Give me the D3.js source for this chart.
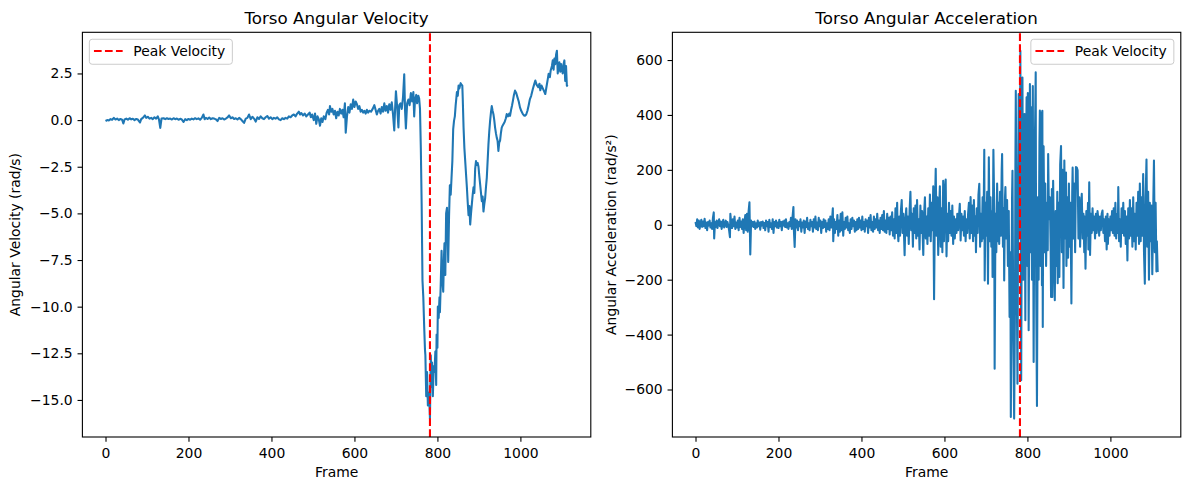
<!DOCTYPE html>
<html>
<head>
<meta charset="utf-8">
<script src="https://cdn.jsdelivr.net/npm/d3@7"></script>
<style>
  body { margin: 0; background: #ffffff; }
  svg text { font-family: "DejaVu Sans", sans-serif; fill: #000; }
</style>
</head>
<body>
<svg id="chart" width="1190" height="490"></svg>
<script>
// [frame, rad/s]
var velocityPoints = [
  [0,-0.05],[4,0.0],[8,-0.02],[12,0.05],[16,0.02],[20,0.12],[24,0.03],[28,0.08],[32,0.0],[36,0.06],
  [40,0.02],[43,-0.18],[46,0.04],[50,0.08],[54,0.02],[58,0.1],[62,0.04],[66,0.07],[70,0.0],[74,0.06],
  [78,0.03],[83,-0.13],[86,0.05],[90,0.12],[95,0.25],[98,0.12],[102,0.18],[106,0.08],[110,0.12],[114,0.05],
  [118,0.15],[122,0.08],[126,0.2],[129,0.02],[132,-0.42],[135,0.08],[140,0.1],[144,0.05],[148,0.1],[152,0.06],
  [156,0.08],[160,0.03],[164,0.1],[168,0.05],[172,0.08],[176,0.02],[180,0.07],[184,0.03],[188,-0.1],[192,0.05],
  [196,0.0],[200,0.06],[204,0.02],[208,0.08],[212,0.04],[216,0.1],[220,0.05],[224,0.09],[228,0.02],[232,0.12],
  [236,0.3],[239,0.05],[242,0.12],[246,0.06],[250,0.14],[254,0.05],[258,0.1],[262,0.08],[266,0.04],[270,-0.05],
  [274,0.12],[278,0.06],[282,0.1],[286,0.03],[290,0.08],[294,0.14],[298,0.25],[302,0.1],[306,0.15],[310,0.06],
  [314,0.1],[318,0.03],[322,0.12],[326,0.05],[330,-0.05],[334,-0.15],[338,0.08],[342,0.12],[346,0.3],[350,0.05],
  [354,0.18],[358,0.08],[362,-0.08],[366,0.15],[370,0.06],[374,0.2],[378,0.1],[382,0.05],[386,0.15],[390,0.22],
  [394,0.08],[398,0.15],[402,0.05],[406,0.12],[410,0.08],[414,0.15],[418,0.04],[422,0.0],[426,0.1],[430,0.05],
  [434,0.12],[438,0.08],[442,0.2],[446,0.15],[450,0.25],[454,0.3],[458,0.2],[462,0.35],[466,0.45],[469,0.3],
  [472,0.38],[476,0.25],[480,0.35],[484,0.2],[488,0.3],[492,0.4],[495,0.15],[498,0.3],[502,0.0],[505,0.35],
  [508,-0.2],[511,0.2],[514,0.05],[517,-0.3],[520,0.1],[523,-0.1],[526,0.2],[530,0.05],[533,0.4],[536,0.55],
  [539,0.3],[541,0.75],[544,0.45],[547,0.6],[550,0.3],[553,0.5],[556,0.1],[559,0.45],[562,0.25],[565,0.6],
  [568,0.35],[571,0.55],[574,0.15],[577,0.9],[579,-0.67],[582,0.2],[585,0.7],[588,0.4],[591,0.85],[594,0.6],
  [597,1.1],[600,0.7],[603,1.0],[606,0.85],[609,0.6],[612,0.75],[615,0.45],[618,0.55],[621,0.4],[624,0.5],
  [627,0.35],[630,0.55],[633,0.4],[636,0.5],[640,0.45],[644,0.6],[648,0.8],[651,0.55],[654,0.3],[657,0.5],
  [660,0.6],[663,0.35],[666,0.7],[669,0.45],[672,0.9],[675,0.5],[678,0.75],[681,0.4],[684,0.85],[687,0.55],
  [690,0.95],[693,0.3],[696,-0.55],[698,0.6],[700,1.55],[703,0.7],[706,-0.4],[708,0.8],[711,0.9],[714,0.6],
  [717,1.2],[720,2.45],[722,0.5],[724,-0.45],[727,0.9],[730,1.1],[733,0.8],[736,1.45],[739,1.0],[742,1.5],
  [744,0.2],[746,1.1],[749,1.35],[751,0.9],[754,1.3],[756,1.15],[758,0.6],[760,-1.5],[762,-4.5],[764,-8.6],
  [766,-9.5],[768,-11.0],[770,-12.3],[771,-12.6],[773,-14.8],[775,-13.5],[777,-15.3],[780,-14.6],[782,-16.0],[784,-12.6],
  [786,-14.3],[787,-13.0],[789,-14.8],[791,-13.2],[793,-13.5],[795,-12.4],[797,-14.2],[798,-11.5],[800,-12.2],[801,-10.0],
  [803,-10.6],[805,-9.5],[806,-10.3],[808,-8.8],[810,-7.0],[812,-8.6],[814,-9.2],[816,-7.2],[817,-6.6],[819,-8.3],
  [821,-5.0],[823,-4.7],[825,-6.5],[826,-7.6],[828,-5.2],[830,-3.5],[832,-4.0],[834,-3.1],[836,-2.2],[838,-0.5],
  [840,-0.04],[842,0.2],[844,0.8],[847,1.5],[849,1.3],[851,1.85],[853,1.7],[856,1.98],[858,1.9],[860,1.85],
  [861,1.2],[863,-0.4],[865,-1.5],[867,-2.2],[869,-2.9],[871,-3.6],[873,-4.4],[875,-5.1],[877,-4.6],[879,-5.6],
  [881,-5.0],[883,-4.5],[885,-4.0],[887,-3.6],[889,-3.9],[891,-2.6],[893,-2.2],[895,-2.4],[897,-2.3],[899,-2.5],
  [901,-3.0],[903,-3.45],[905,-3.9],[907,-4.35],[909,-4.1],[911,-4.9],[913,-4.5],[915,-4.2],[917,-3.6],[919,-3.1],
  [921,-2.2],[923,-1.3],[925,-0.6],[927,-0.04],[929,0.4],[931,0.75],[933,0.5],[935,0.32],[937,0.0],[939,-0.4],
  [941,-0.7],[943,-0.94],[945,-1.1],[947,-1.65],[949,-1.2],[951,-1.1],[953,-0.7],[955,-0.4],[957,-0.3],[959,-0.22],
  [962,-0.1],[965,0.1],[967,0.32],[970,0.2],[973,0.35],[975,0.23],[978,0.6],[980,0.8],[982,1.04],[984,1.3],
  [987,1.58],[990,1.45],[993,1.22],[996,1.0],[999,0.68],[1002,0.5],[1006,0.32],[1009,0.25],[1011,0.23],[1014,0.3],
  [1017,0.5],[1020,0.8],[1023,1.13],[1026,1.3],[1030,1.67],[1033,1.9],[1036,2.12],[1039,1.9],[1043,1.76],[1046,1.95],
  [1048,1.6],[1051,1.85],[1054,1.7],[1057,1.55],[1060,1.4],[1063,1.8],[1066,2.2],[1068,2.48],[1071,2.3],[1073,2.66],
  [1076,2.9],[1078,3.2],[1080,2.7],[1082,3.3],[1084,3.0],[1086,3.5],[1088,3.72],[1090,2.5],[1092,2.9],[1094,3.1],
  [1096,2.6],[1098,3.0],[1100,2.7],[1102,2.5],[1104,3.0],[1106,3.2],[1108,2.1],[1110,2.9],[1112,1.85],[1114,1.8]
]

// [frame, rad/s²]
var accelerationPoints = [
  [0,10],[2,-5],[4,20],[6,-10],[8,15],[10,-15],[12,5],[14,18],[16,-8],[18,12],
  [20,-5],[22,22],[24,-12],[26,8],[28,-20],[30,10],[32,-3],[34,15],[36,-10],[38,5],
  [40,-15],[42,25],[44,45],[45,-50],[47,10],[49,-8],[51,15],[53,-12],[55,8],[57,20],
  [59,-5],[61,12],[63,-15],[65,6],[67,18],[69,-10],[71,3],[73,15],[75,-8],[77,10],
  [79,-3],[81,-20],[83,-45],[84,40],[86,5],[88,-12],[90,20],[92,-5],[94,30],[96,-15],
  [98,8],[100,-10],[102,15],[104,-20],[106,25],[108,-8],[110,12],[112,-15],[114,20],[116,-30],
  [118,10],[120,35],[122,-20],[124,40],[126,-25],[128,50],[130,82],[131,-10],[132,-108],[134,15],
  [136,-5],[138,10],[140,-8],[142,12],[144,-15],[146,5],[148,-10],[150,15],[152,-5],[154,8],
  [156,-18],[158,10],[160,-3],[162,12],[164,-12],[166,6],[168,-20],[170,15],[172,-5],[174,10],
  [176,-25],[178,18],[180,-8],[182,5],[184,-15],[186,20],[188,-30],[190,10],[192,-5],[194,15],
  [196,-10],[198,8],[200,-12],[202,18],[204,-5],[206,10],[208,-20],[210,12],[212,-3],[214,15],
  [216,-8],[218,20],[220,-10],[222,5],[224,-15],[226,10],[228,-5],[230,25],[232,-15],[234,30],
  [236,65],[237,-15],[239,-81],[241,20],[243,-10],[245,15],[247,-20],[249,10],[251,-5],[253,20],
  [255,-25],[257,8],[259,-10],[261,15],[263,-30],[265,12],[267,-8],[269,25],[271,-15],[273,5],
  [275,-20],[277,18],[279,-5],[281,10],[283,-25],[285,20],[287,-10],[289,30],[291,-15],[293,8],
  [295,-20],[297,25],[299,-5],[301,15],[303,-30],[305,10],[307,-12],[309,20],[311,-8],[313,15],
  [315,-25],[317,5],[319,-15],[321,20],[323,-20],[325,30],[327,-10],[329,15],[331,60],[332,-60],
  [334,20],[336,-30],[338,10],[340,-15],[342,35],[344,-40],[346,15],[348,-25],[350,40],[352,-20],
  [354,45],[356,-40],[358,10],[360,-15],[362,25],[364,-10],[366,30],[368,-20],[370,5],[372,-30],
  [374,20],[376,-15],[378,25],[380,-5],[382,15],[384,-25],[386,10],[388,-20],[390,20],[392,-15],
  [394,25],[396,-10],[398,15],[400,-20],[402,30],[404,-15],[406,10],[408,-25],[410,20],[412,-5],
  [414,15],[416,-30],[418,25],[420,-10],[422,35],[424,-20],[426,10],[428,-25],[430,30],[432,-15],
  [434,20],[436,-10],[438,40],[440,-20],[442,15],[444,-30],[446,25],[448,-15],[450,35],[452,-20],
  [454,50],[456,-25],[458,15],[460,-30],[462,40],[464,-15],[466,25],[468,-35],[470,30],[472,-20],
  [474,45],[476,-40],[478,20],[480,-50],[482,60],[484,-30],[486,80],[487,-10],[489,-60],[491,30],
  [493,-40],[495,50],[497,90],[499,-30],[501,40],[503,-60],[504,-111],[506,20],[508,60],[510,-40],
  [512,30],[514,-70],[516,50],[518,120],[520,-20],[522,40],[524,-80],[526,60],[528,-30],[530,70],
  [532,-50],[534,90],[536,-40],[538,20],[540,-90],[542,70],[544,-30],[546,50],[548,-60],[549,-110],
  [551,40],[553,100],[555,-50],[557,30],[559,-70],[561,60],[563,-40],[565,110],[567,-60],[569,80],
  [571,-20],[573,140],[575,-271],[577,60],[579,204],[581,-40],[583,100],[585,-110],[587,50],[589,140],
  [591,-80],[593,60],[595,-100],[597,160],[599,-60],[601,120],[603,165],[605,-115],[607,40],[609,-60],
  [611,80],[613,-30],[615,50],[617,-40],[619,70],[621,-70],[623,30],[625,-50],[627,20],[629,-30],
  [631,40],[633,-20],[635,30],[637,76],[639,-57],[641,40],[643,-20],[645,30],[647,-40],[649,50],
  [651,-60],[653,20],[655,-30],[657,40],[659,80],[661,-50],[663,101],[665,-30],[667,70],[669,-60],
  [671,90],[673,-40],[675,30],[676,-100],[678,60],[680,-30],[682,110],[684,149],[686,-80],[688,40],
  [690,-60],[692,100],[694,-50],[696,273],[697,-203],[699,80],[701,-40],[703,120],[705,-215],[707,246],
  [709,-60],[711,100],[713,-80],[715,50],[716,-190],[718,273],[720,60],[721,-524],[723,40],[725,-100],
  [727,150],[729,-60],[731,80],[732,-70],[734,120],[736,-40],[738,200],[739,258],[741,-80],[743,60],
  [744,-203],[746,100],[747,137],[749,-50],[751,90],[753,-150],[755,50],[757,-336],[759,-100],[760,-700],
  [762,-200],[763,100],[764,197],[766,-400],[768,-706],[770,-300],[771,200],[772,488],[774,-100],[776,-579],
  [778,200],[779,476],[781,-50],[783,634],[785,-566],[787,300],[788,536],[790,-200],[791,300],[793,403],
  [795,-348],[796,100],[798,464],[800,-150],[801,480],[803,-384],[805,200],[806,513],[808,-100],[809,428],
  [811,-200],[813,505],[815,-500],[816,-100],[818,300],[820,555],[821,-200],[823,-660],[825,100],[827,-200],
  [829,300],[830,416],[832,-150],[834,410],[835,-220],[836,415],[837,-372],[838,100],[839,286],[841,-100],
  [843,150],[845,-150],[847,80],[849,-93],[850,258],[852,20],[854,100],[856,-80],[857,-263],[859,130],
  [860,-263],[862,160],[864,-100],[866,-275],[868,50],[870,-150],[872,120],[873,-213],[875,80],[877,-190],
  [879,220],[881,287],[883,-100],[885,200],[887,-230],[889,234],[891,-50],[893,190],[894,-150],[896,100],
  [898,-120],[900,150],[902,-80],[904,80],[906,-287],[908,120],[909,208],[911,-50],[913,150],[915,-100],
  [917,210],[919,208],[921,198],[923,-50],[925,100],[927,-80],[929,60],[931,113],[933,-50],[935,40],
  [937,-100],[938,30],[940,-160],[942,50],[944,-40],[946,80],[947,-90],[949,155],[951,-110],[953,40],
  [955,-30],[957,60],[959,-20],[961,30],[963,-50],[965,40],[967,-30],[969,50],[971,20],[973,-40],
  [975,30],[977,-20],[979,40],[981,52],[983,-30],[985,20],[987,-60],[989,30],[991,-90],[993,40],
  [994,-70],[996,20],[998,-40],[1000,30],[1002,-20],[1004,50],[1006,-30],[1008,60],[1010,-40],[1012,80],
  [1014,-50],[1016,40],[1018,-30],[1019,137],[1021,-60],[1023,20],[1025,-80],[1027,60],[1029,-30],[1031,80],
  [1033,-40],[1035,50],[1037,-70],[1039,30],[1041,-130],[1043,60],[1045,-50],[1047,90],[1049,-40],[1051,60],
  [1053,-80],[1055,100],[1057,-60],[1059,40],[1061,-90],[1063,80],[1065,-40],[1067,120],[1069,-70],[1071,150],
  [1073,-60],[1075,100],[1077,-40],[1079,185],[1081,-100],[1083,-215],[1085,100],[1087,238],[1089,-80],[1091,120],
  [1093,-200],[1095,80],[1097,-60],[1099,70],[1101,-180],[1103,40],[1105,234],[1107,-100],[1109,80],[1111,-170],
  [1112,-60],[1114,-172]
]

var frameTicks = [0, 200, 400, 600, 800, 1000]
var velocityTicks = [-15, -12.5, -10, -7.5, -5, -2.5, 0, 2.5]
var accelerationTicks = [-600, -400, -200, 0, 200, 400, 600]
var legendLabel = 'Peak Velocity'

var fontSize = 13.9
var lineColor = '#1f77b4'
var lw = 2.08           // 1.5pt at 100 dpi
var dash = '7.7,3.3'    // matplotlib '--' scaled by linewidth

// matplotlib style autoscale: 5% margin on each side
function margem(valores) {
    var lo = d3.min(valores), hi = d3.max(valores)
    var pad = (hi - lo) * 0.05
    return [lo - pad, hi + pad]
}

function desenhar_painel(cfg) {
    var svg = d3.select('#chart')
    var box = cfg.box

    var x = d3.scaleLinear()
        .domain(margem(cfg.points.map(function (d) { return d[0] })))
        .range([box.left, box.right])
    var y = d3.scaleLinear()
        .domain(margem(cfg.points.map(function (d) { return d[1] })))
        .range([box.bottom, box.top])

    svg.append('clipPath')
        .attr('id', cfg.id + '-clip')
        .append('rect')
        .attr('x', box.left).attr('y', box.top)
        .attr('width', box.right - box.left)
        .attr('height', box.bottom - box.top)

    var line = d3.line()
        .x(function (d) { return x(d[0]) })
        .y(function (d) { return y(d[1]) })

    svg.append('path')
        .datum(cfg.points)
        .attr('clip-path', 'url(#' + cfg.id + '-clip)')
        .attr('fill', 'none')
        .attr('stroke', lineColor)
        .attr('stroke-width', lw)
        .attr('stroke-linejoin', 'round')
        .attr('d', line)

    //vertical marker at the peak velocity frame
    svg.append('line')
        .attr('x1', x(cfg.peakFrame)).attr('x2', x(cfg.peakFrame))
        .attr('y1', box.bottom).attr('y2', box.top)
        .attr('stroke', '#ff0000')
        .attr('stroke-width', lw)
        .attr('stroke-dasharray', dash)

    var xAxis = d3.axisBottom(x)
        .tickValues(frameTicks)
        .tickFormat(d3.format('d'))
        .tickSize(4.86)
        .tickPadding(4.86)
        .tickSizeOuter(0)

    var yAxis = d3.axisLeft(y)
        .tickValues(cfg.ticks)
        .tickFormat(cfg.format)
        .tickSize(4.86)
        .tickPadding(4.86)
        .tickSizeOuter(0)

    var gx = svg.append('g')
        .attr('transform', 'translate(0,' + box.bottom + ')')
        .call(xAxis)
    var gy = svg.append('g')
        .attr('transform', 'translate(' + box.left + ',0)')
        .call(yAxis)

    ;[gx, gy].forEach(function (g) {
        g.select('.domain').remove()
        g.selectAll('.tick line').attr('stroke', '#000').attr('stroke-width', 1.1)
        g.selectAll('.tick text')
            .attr('font-family', '"DejaVu Sans", sans-serif')
            .attr('font-size', fontSize)
            .attr('fill', '#000')
    })
    gx.selectAll('.tick text').attr('dy', '0.8em')

    //spines
    svg.append('rect')
        .attr('x', box.left).attr('y', box.top)
        .attr('width', box.right - box.left)
        .attr('height', box.bottom - box.top)
        .attr('fill', 'none')
        .attr('stroke', '#000')
        .attr('stroke-width', 1.1)

    var cx = (box.left + box.right) / 2
    svg.append('text')
        .attr('x', cx).attr('y', 24)
        .attr('text-anchor', 'middle')
        .attr('font-size', 16.7)
        .text(cfg.title)

    svg.append('text')
        .attr('x', cx).attr('y', 477)
        .attr('text-anchor', 'middle')
        .attr('font-size', fontSize)
        .text('Frame')

    svg.append('text')
        .attr('transform', 'translate(' + cfg.ylabelX + ',' + ((box.top + box.bottom) / 2) + ') rotate(-90)')
        .attr('text-anchor', 'middle')
        .attr('font-size', fontSize)
        .text(cfg.ylabel)

    // legend
    var legW = 143, legH = 25
    var lx = cfg.legendRight ? box.right - 6.95 - legW : box.left + 6.95
    var ly = box.top + 6.95
    var leg = svg.append('g').attr('transform', 'translate(' + lx + ',' + ly + ')')
    leg.append('rect')
        .attr('width', legW).attr('height', legH)
        .attr('rx', 2.8)
        .attr('fill', '#ffffff').attr('fill-opacity', 0.8)
        .attr('stroke', '#cccccc').attr('stroke-width', 1)
    leg.append('line')
        .attr('x1', 4.6).attr('x2', 33.3)
        .attr('y1', 11.7).attr('y2', 11.7)
        .attr('stroke', '#ff0000')
        .attr('stroke-width', lw)
        .attr('stroke-dasharray', dash)
    leg.append('text')
        .attr('x', 44).attr('y', 16.3)
        .attr('font-size', fontSize)
        .text(legendLabel)
}

var peakFrame = d3.greatest(velocityPoints, function (d) { return Math.abs(d[1]) })[0]

desenhar_painel({
    id: 'vel',
    points: velocityPoints,
    peakFrame: peakFrame,
    box: { left: 82.4, right: 590.8, top: 32.3, bottom: 437 },
    ticks: velocityTicks,
    format: d3.format('.1f'),
    title: 'Torso Angular Velocity',
    ylabel: 'Angular Velocity (rad/s)',
    ylabelX: 20,
    legendRight: false
})

desenhar_painel({
    id: 'acc',
    points: accelerationPoints,
    peakFrame: peakFrame,
    box: { left: 672.4, right: 1180.8, top: 32.3, bottom: 437 },
    ticks: accelerationTicks,
    format: d3.format('d'),
    title: 'Torso Angular Acceleration',
    ylabel: 'Angular Acceleration (rad/s²)',
    ylabelX: 615.6,
    legendRight: true
})
</script>
</body>
</html>
